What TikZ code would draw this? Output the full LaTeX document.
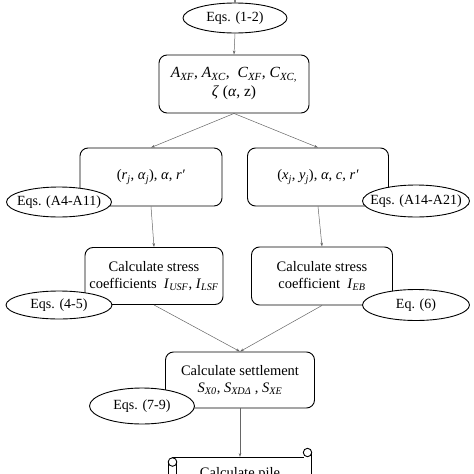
\documentclass[tikz,border=0pt]{standalone}
\usepackage{fontspec}
\setmainfont{Liberation Serif}
\usetikzlibrary{arrows.meta, shapes.geometric}
\tikzstyle{process}=[draw, rounded corners=8pt, line width=0.9pt, align=center, fill=white, inner sep=2pt]
\tikzstyle{eqn}=[draw, ellipse, line width=0.9pt, fill=white, inner xsep=-12pt, inner ysep=-4pt, minimum width=105pt, minimum height=31pt, font=\fontsize{14}{17}\selectfont]
\tikzstyle{link}=[->, >={Stealth[length=4pt,width=2.6pt]}, draw=black!60, line width=0.5pt]
\newcommand{\vsub}[2]{\textit{#1}\textsubscript{\textit{#2}}}

\begin{document}
\begin{tikzpicture}[x=1pt, y=-1pt, font=\fontsize{14.5}{17}\selectfont]
  \useasboundingbox (0,0) rectangle (474,474);
  % boxes
  \node[process, minimum width=150pt, minimum height=58pt, font=\fontsize{15.5}{19}\selectfont] (coef) at (234,84)
    {\vsub{A}{XF}, \vsub{A}{XC}, \ \vsub{C}{XF}, \vsub{C}{XC,}\\ \textit{ζ} (\textit{α}, z)};
  \node[process, minimum width=142pt, minimum height=58pt] (polar) at (151,177)
    {(\vsub{r}{j}, \vsub{α}{j}), \textit{α}, \textit{r′}};
  \node[process, minimum width=141pt, minimum height=58pt] (cart) at (318,177)
    {(\vsub{x}{j}, \vsub{y}{j}), \textit{α}, \textit{c}, \textit{r′}};
  \node[process, minimum width=138pt, minimum height=57pt] (usf) at (154,276)
    {Calculate stress\\coefficients \ \vsub{I}{USF}, \vsub{I}{LSF}};
  \node[process, minimum width=141pt, minimum height=58pt] (eb) at (322,276)
    {Calculate stress\\coefficient \ \vsub{I}{EB}};
  \node[process, minimum width=149pt, minimum height=56pt] (settle) at (240,380)
    {Calculate settlement\\\vsub{S}{X0}, \vsub{S}{XDΔ} , \vsub{S}{XE}};
  % scroll at the bottom
  \coordinate (piletop) at (240,457);
  \draw[line width=0.9pt] (172,457) -- (304,457);
  \draw[line width=0.9pt] (307.5,452.5) circle (4.2);
  \draw[line width=0.9pt] (311.7,452.5) -- (311.7,480);
  \draw[line width=0.9pt, fill=white] (172.5,462) circle (4.3);
  \draw[line width=0.9pt] (168.2,462) -- (168.2,480);
  \draw[line width=0.9pt] (176.8,462) -- (176.8,480);
  \node (pile) at (240,474) {Calculate pile};
  % equation ellipses
  \node[eqn, minimum width=104pt, minimum height=30pt] (eq12) at (235,18) {Eqs. (1-2)};
  \node[eqn, minimum height=30pt] (eqA4) at (59,202) {Eqs. (A4-A11)};
  \node[eqn, minimum width=107pt, minimum height=32pt] (eqA14) at (416,201) {Eqs. (A14-A21)};
  \node[eqn, minimum width=106pt, minimum height=28pt] (eq45) at (59,305) {Eqs. (4-5)};
  \node[eqn, minimum width=107pt] (eq6) at (416,305) {Eq. (6)};
  \node[eqn, minimum height=36pt] (eq79) at (142,406) {Eqs. (7-9)};
  % connectors
  \coordinate (entry) at (235,-2);
  \draw[draw=black!50, line width=1.2pt] (entry) -- (eq12.north);
  \draw[link] (eq12.south) -- (coef.north);
  \draw[link] (coef.south) -- (polar.north);
  \draw[link] (coef.south) -- (cart.north);
  \draw[link] (polar.south) -- (usf.north);
  \draw[link] (cart.south) -- (eb.north);
  \draw[link] (usf.south) -- (settle.north);
  \draw[link] (eb.south) -- (settle.north);
  \draw[link] (settle.south) -- (piletop);
\end{tikzpicture}
\end{document}
